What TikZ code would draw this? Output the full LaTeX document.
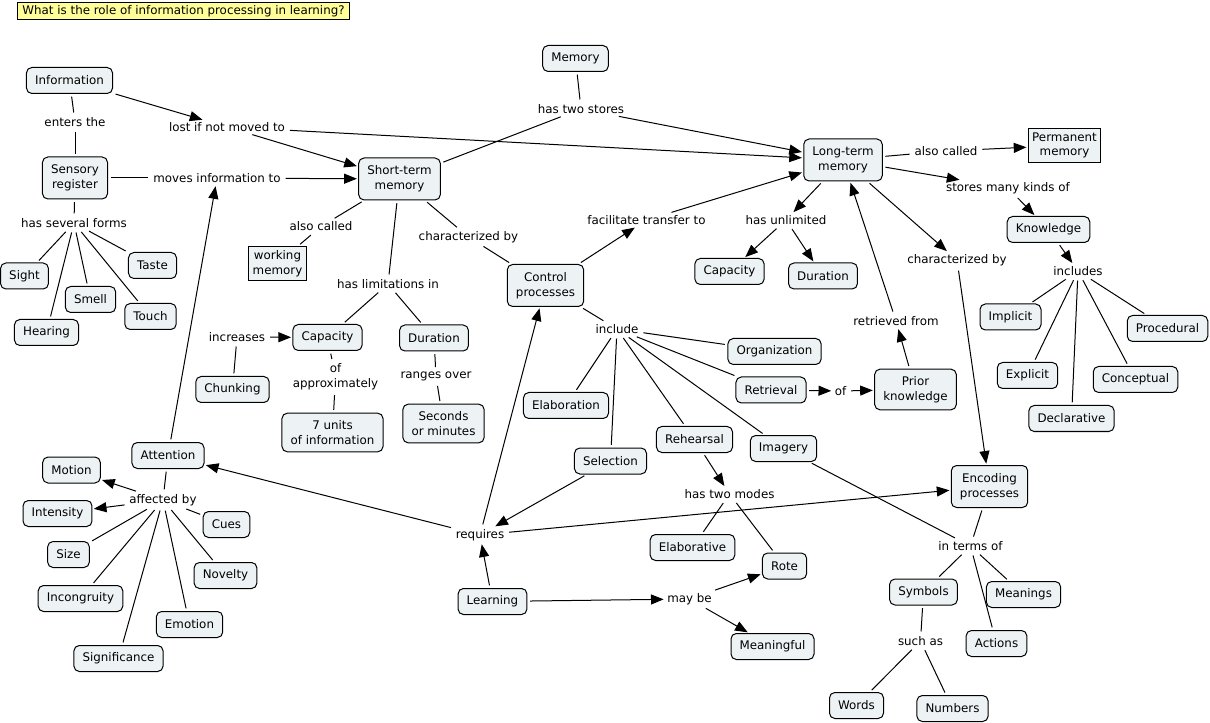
\documentclass[tikz,border=0pt]{standalone}
\usepackage{fontspec}
\setmainfont{DejaVu Sans}
\usetikzlibrary{arrows.meta}
\definecolor{cfill}{RGB}{237,243,245}
\definecolor{tfill}{RGB}{255,255,153}
\newcommand{\mapfont}{\fontsize{8.9}{11}\selectfont}
\begin{document}
\begin{tikzpicture}[x=0.75pt,y=-0.75pt,
  concept/.style={draw=black, line width=0.75pt, fill=cfill, rounded corners=4pt, font=\mapfont, align=center, inner xsep=6.5pt, inner ysep=2pt, minimum height=19.5pt},
  concepttwo/.style={concept, minimum height=31.5pt},
  sqbox/.style={concept, rounded corners=0pt, inner xsep=3pt, minimum height=25.5pt},
  titlebox/.style={draw=black, line width=0.75pt, fill=tfill, font=\mapfont, inner xsep=3.5pt, inner ysep=1pt, minimum height=12.75pt},
  phrase/.style={font=\mapfont, inner sep=1.5pt, align=center},
  ln/.style={draw, line width=0.75pt, shorten <=2pt, shorten >=2pt},
  ar/.style={ln, -{Triangle[length=9.5pt,width=7.5pt]}, shorten >=1pt},
]
\useasboundingbox (0,0) rectangle (1210,723);
% title
\node[titlebox] (title) at (183.5,11.5) {What is the role of information processing in learning?};
% concepts
\node[concept] (info) at (69.5,80.5) {Information};
\node[concepttwo] (sens) at (75,178) {Sensory\\register};
\node[concepttwo] (stm) at (399.5,179) {Short-term\\memory};
\node[concept] (mem) at (575.5,58.5) {Memory};
\node[concepttwo] (ltm) at (843,160) {Long-term\\memory};
\node[sqbox] (perm) at (1064.5,145.5) {Permanent\\memory};
\node[concept] (know) at (1048.5,229.5) {Knowledge};
\node[sqbox] (wm) at (277.5,263.5) {working\\memory};
\node[concepttwo] (cp) at (545.5,285.5) {Control\\processes};
\node[concept] (cap2) at (729.5,271.5) {Capacity};
\node[concept] (dur2) at (823,276) {Duration};
\node[concept] (sight) at (24.5,276) {Sight};
\node[concept] (taste) at (152.5,265.5) {Taste};
\node[concept] (smell) at (90.5,299.5) {Smell};
\node[concept] (touch) at (150.5,316.5) {Touch};
\node[concept] (hearing) at (46.5,332.5) {Hearing};
\node[concept] (cap1) at (327.5,337.5) {Capacity};
\node[concept] (dur1) at (434,338) {Duration};
\node[concept] (chunk) at (232.5,389.5) {Chunking};
\node[concepttwo, minimum height=29pt] (seven) at (332.5,432.5) {7 units\\of information};
\node[concepttwo, minimum height=29pt] (secs) at (443.5,423.5) {Seconds\\or minutes};
\node[concept] (org) at (774.5,351.5) {Organization};
\node[concept] (retr) at (771,390) {Retrieval};
\node[concepttwo, minimum height=30.5pt] (prior) at (915.5,389.5) {Prior\\knowledge};
\node[concept] (elab) at (566,405.5) {Elaboration};
\node[concept] (reh) at (694.5,439.5) {Rehearsal};
\node[concept] (imag) at (783.5,448.5) {Imagery};
\node[concept] (sel) at (610.5,461) {Selection};
\node[concept] (att) at (168,455.5) {Attention};
\node[concept] (motion) at (71.5,470) {Motion};
\node[concept] (intens) at (57.5,513.5) {Intensity};
\node[concept] (cues) at (226.5,524.5) {Cues};
\node[concept] (size) at (68.5,554.5) {Size};
\node[concept] (nov) at (225.5,575.5) {Novelty};
\node[concept] (incong) at (80.5,598.5) {Incongruity};
\node[concept] (emo) at (189.5,624.5) {Emotion};
\node[concept] (signif) at (118.5,658.5) {Significance};
\node[concept] (learn) at (492.5,601.5) {Learning};
\node[concept] (elabv) at (692.5,547.5) {Elaborative};
\node[concept] (rote) at (784.5,566) {Rote};
\node[concept] (meanf) at (772.5,646.5) {Meaningful};
\node[concepttwo] (enc) at (989.5,486.5) {Encoding\\processes};
\node[concept] (impl) at (1010.5,317) {Implicit};
\node[concept] (proc) at (1167.5,328.5) {Procedural};
\node[concept] (expl) at (1027.5,375.5) {Explicit};
\node[concept] (concep) at (1135.5,379.5) {Conceptual};
\node[concept] (decl) at (1071.5,418.5) {Declarative};
\node[concept] (symb) at (923.5,592) {Symbols};
\node[concept] (meanings) at (1023.5,594.5) {Meanings};
\node[concept] (actions) at (996.5,643.5) {Actions};
\node[concept] (words) at (856.5,705.5) {Words};
\node[concept] (numbers) at (952.5,708.5) {Numbers};
% linking phrases
\node[phrase] (penters) at (75,122) {enters the};
\node[phrase] (plost) at (227,127) {lost if not moved to};
\node[phrase] (pmoves) at (217,178) {moves information to};
\node[phrase] (ptwo) at (581,109) {has two stores};
\node[phrase] (palsoL) at (946,151) {also called};
\node[phrase] (pstores) at (1008,188) {stores many kinds of};
\node[phrase] (pforms) at (74,223) {has several forms};
\node[phrase] (palsoS) at (321,226.5) {also called};
\node[phrase] (pcharS) at (468.5,237) {characterized by};
\node[phrase] (pfac) at (646.5,220) {facilitate transfer to};
\node[phrase] (punl) at (786,220) {has unlimited};
\node[phrase] (pcharL) at (957,260) {characterized by};
\node[phrase] (pincl) at (1078,271) {includes};
\node[phrase] (plim) at (388,284) {has limitations in};
\node[phrase] (pinclude) at (617,329) {include};
\node[phrase] (pincr) at (237,337) {increases};
\node[phrase] (pretf) at (896,321) {retrieved from};
\node[phrase] (pofap) at (335.5,377) {of\\approximately};
\node[phrase] (pranges) at (436,376.5) {ranges over};
\node[phrase] (pof) at (840.5,391) {of};
\node[phrase] (paff) at (163,500) {affected by};
\node[phrase] (pmodes) at (729.5,494) {has two modes};
\node[phrase] (preq) at (480,535) {requires};
\node[phrase] (pterms) at (970.5,546) {in terms of};
\node[phrase] (pmaybe) at (689.5,599) {may be};
\node[phrase] (psuch) at (920.5,641) {such as};
% connectors
\draw[ln] (info) -- (penters);
\draw[ln] (penters) -- (sens);
\draw[ar] (info) -- (plost);
\draw[ar] (plost) -- (stm);
\draw[ar] (plost) -- (ltm);
\draw[ln] (sens) -- (pmoves);
\draw[ar] (pmoves) -- (stm);
\draw[ar] (att) -- (pmoves);
\draw[ln] (mem) -- (ptwo);
\draw[ln] (ptwo) -- (stm);
\draw[ar] (ptwo) -- (ltm);
\draw[ln] (sens) -- (pforms);
\foreach \t in {sight,taste,smell,touch,hearing} \draw[ln] (pforms) -- (\t);
\draw[ln] (stm) -- (palsoS);
\draw[ln] (palsoS) -- (wm);
\draw[ln] (stm) -- (pcharS);
\draw[ln] (pcharS) -- (cp);
\draw[ln] (stm) -- (plim);
\draw[ln] (plim) -- (cap1);
\draw[ln] (plim) -- (dur1);
\draw[ar] (cp) -- (pfac);
\draw[ar] (pfac) -- (ltm);
\draw[ar] (ltm) -- (punl);
\draw[ar] (punl) -- (cap2);
\draw[ar] (punl) -- (dur2);
\draw[ln] (ltm) -- (palsoL);
\draw[ar] (palsoL) -- (perm);
\draw[ar] (ltm) -- (pstores);
\draw[ar] (pstores) -- (know);
\draw[ar] (ltm) -- (pcharL);
\draw[ar] (pcharL) -- (enc);
\draw[ar] (know) -- (pincl);
\foreach \t in {impl,expl,decl,concep,proc} \draw[ln] (pincl) -- (\t);
\draw[ln] (cp) -- (pinclude);
\foreach \t in {org,retr,elab,sel,reh,imag} \draw[ln] (pinclude) -- (\t);
\draw[ar] (retr) -- (pof);
\draw[ar] (pof) -- (prior);
\draw[ar] (prior) -- (pretf);
\draw[ar] (pretf) -- (ltm);
\draw[ln] (chunk) -- (pincr);
\draw[ar] (pincr) -- (cap1);
\draw[ln] (cap1) -- (pofap);
\draw[ln] (pofap) -- (seven);
\draw[ln] (dur1) -- (pranges);
\draw[ln] (pranges) -- (secs);
\draw[ln] (att) -- (paff);
\draw[ar] (paff) -- (motion);
\draw[ar] (paff) -- (intens);
\foreach \t in {size,incong,signif,emo,nov,cues} \draw[ln] (paff) -- (\t);
\draw[ar] (sel) -- (preq);
\draw[ar] (preq) -- (att);
\draw[ar] (preq) -- (cp);
\draw[ar] (preq) -- (enc);
\draw[ar] (learn) -- (preq);
\draw[ar] (learn) -- (pmaybe);
\draw[ar] (pmaybe) -- (rote);
\draw[ar] (pmaybe) -- (meanf);
\draw[ar] (reh) -- (pmodes);
\draw[ln] (pmodes) -- (elabv);
\draw[ln] (pmodes) -- (rote);
\draw[ln] (imag) -- (pterms);
\draw[ln] (enc) -- (pterms);
\foreach \t in {symb,meanings,actions} \draw[ln] (pterms) -- (\t);
\draw[ln] (symb) -- (psuch);
\draw[ln] (psuch) -- (words);
\draw[ln] (psuch) -- (numbers);
\end{tikzpicture}
\end{document}
